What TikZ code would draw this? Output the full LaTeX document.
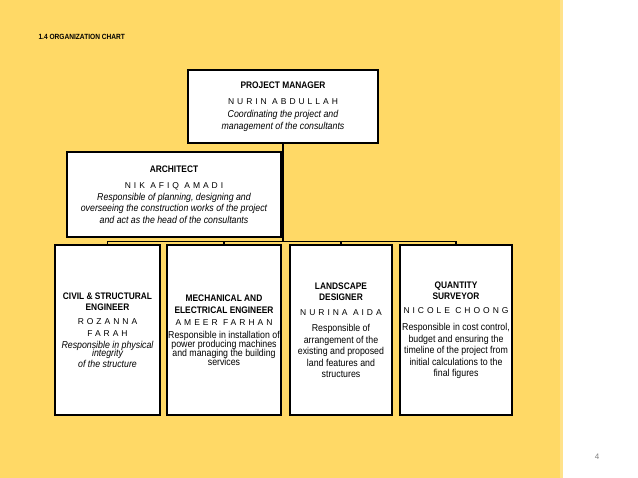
\documentclass[tikz,border=0pt]{standalone}
\usepackage{fontspec}
\setmainfont{Liberation Sans}
\newfontfamily\condf[FakeStretch=0.88]{Liberation Sans}
\newfontfamily\spcf[LetterSpace=35]{Liberation Sans}
\definecolor{bgy}{HTML}{FFD966}
\definecolor{stripe}{HTML}{FFE28A}
\definecolor{pgnum}{HTML}{808080}
\tikzset{
  box/.style={draw=black, line width=1.6pt, fill=white, inner sep=0pt, align=center,
    font=\condf\fontsize{10}{11.5}\selectfont},
  link/.style={draw=black, line width=1.6pt},
}
\newcommand{\hd}[1]{{\fontsize{9.5}{11.5}\selectfont\bfseries #1}}
\newcommand{\nm}[1]{{\spcf\fontsize{8.5}{11}\selectfont #1}}
\begin{document}
\begin{tikzpicture}[x=1pt,y=-1pt]
\fill[bgy] (0,0) rectangle (638,478);
\fill[white] (562,0) rectangle (638,478);
\fill[stripe] (560,0) rectangle (563,478);
\useasboundingbox (0,0) rectangle (638,478);

\node[anchor=west, font=\condf\bfseries\fontsize{7.5}{8}\selectfont] (title) at (35,37) {1.4 ORGANIZATION CHART};
\node[font=\fontsize{8}{9}\selectfont, text=pgnum] (pg) at (597,457) {4};

\node[box, minimum width=190pt, minimum height=73pt] (pm) at (283,106.5)
 {\hd{PROJECT MANAGER}\\[4.5pt]\nm{NURIN ABDULLAH}\\[1.5pt]
  \itshape Coordinating the project and\\\itshape management of the consultants};

\node[box, minimum width=214pt, minimum height=85pt] (arch) at (174,194.5)
 {\hd{ARCHITECT}\\[4.5pt]\nm{NIK AFIQ AMADI}\\[0.5pt]
  \itshape Responsible of planning, designing and\\
  \itshape overseeing the construction works of the project\\
  \itshape and act as the head of the consultants};

\node[box, minimum width=105pt, minimum height=170pt] (c1) at (107.5,330)
 {\hd{CIVIL \& STRUCTURAL}\\\hd{ENGINEER}\\[2.5pt]\nm{ROZANNA}\\[0.5pt]\nm{FARAH}\\
  \itshape Responsible in physical\\[-3.5pt]\itshape integrity\\[-0.5pt]\itshape of the structure};

\node[box, minimum width=114pt, minimum height=170pt] (c2) at (224,330)
 {\hd{MECHANICAL AND}\\\hd{ELECTRICAL ENGINEER}\\[0.5pt]\nm{AMEER FARHAN}\\[1.5pt]
  Responsible in installation of\\[-2.5pt]power producing machines\\[-2.5pt]
  and managing the building\\[-2.5pt]services};

\node[box, minimum width=102pt, minimum height=170pt] (c3) at (341,330)
 {\hd{LANDSCAPE}\\\hd{DESIGNER}\\[3.5pt]\nm{NURINA AIDA}\\[4.5pt]
  Responsible of\\arrangement of the\\existing and proposed\\land features and\\structures};

\node[box, minimum width=112pt, minimum height=170pt] (c4) at (456,330)
 {\hd{QUANTITY}\\\hd{SURVEYOR}\\[2.5pt]\nm{NICOLE CHOONG}\\[5.5pt]
  Responsible in cost control,\\budget and ensuring the\\timeline of the project from\\
  initial calculations to the\\final figures};

\coordinate (bus) at (283,241.5);
\draw[link] (pm.south) -- (bus);
\draw[link] (arch.east) -- (arch.east -| pm.south);
\draw[link] (c1.north |- bus) -- (c4.north |- bus);
\foreach \b in {c1,c2,c3,c4} \draw[link] (\b.north) -- (\b.north |- bus);
\end{tikzpicture}
\end{document}
